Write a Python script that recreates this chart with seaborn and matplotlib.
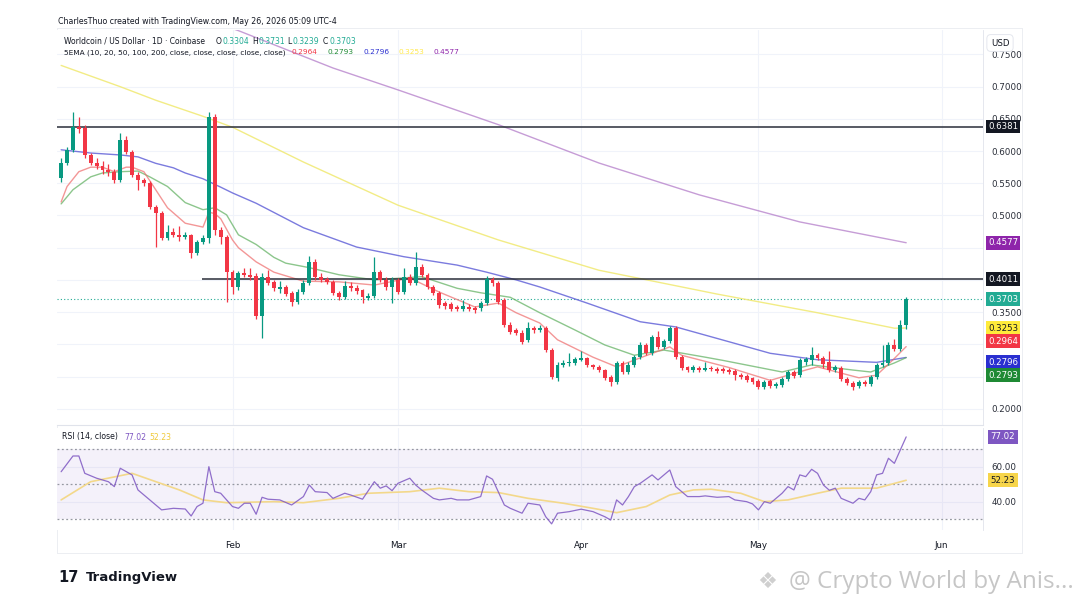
import numpy as np
import pandas as pd
import matplotlib
matplotlib.use("Agg")
import matplotlib.pyplot as plt
import matplotlib.dates as mdates
import seaborn as sns

# ---------------- data ----------------
start_date = "2026-01-03"
opens = [0.558, 0.582, 0.602, 0.637, 0.636, 0.594, 0.582, 0.577, 0.571, 0.567,
         0.555, 0.617, 0.599, 0.563, 0.555, 0.550, 0.513, 0.504, 0.465, 0.474,
         0.470, 0.467, 0.469, 0.442, 0.459, 0.465, 0.653, 0.478, 0.467, 0.412,
         0.389, 0.411, 0.408, 0.406, 0.344, 0.404, 0.396, 0.386, 0.389, 0.379,
         0.366, 0.381, 0.395, 0.428, 0.405, 0.402, 0.397, 0.380, 0.373, 0.391,
         0.388, 0.384, 0.372, 0.375, 0.412, 0.400, 0.389, 0.400, 0.381, 0.405,
         0.395, 0.420, 0.408, 0.389, 0.380, 0.364, 0.363, 0.358, 0.355, 0.358,
         0.356, 0.356, 0.364, 0.401, 0.395, 0.369, 0.330, 0.322, 0.318, 0.307,
         0.325, 0.322, 0.325, 0.291, 0.248, 0.268, 0.271, 0.271, 0.276, 0.278,
         0.268, 0.265, 0.260, 0.249, 0.241, 0.271, 0.257, 0.268, 0.280, 0.299,
         0.287, 0.311, 0.296, 0.305, 0.325, 0.280, 0.264, 0.260, 0.263, 0.260,
         0.263, 0.262, 0.261, 0.260, 0.259, 0.253, 0.251, 0.247, 0.243, 0.234,
         0.243, 0.235, 0.237, 0.246, 0.257, 0.252, 0.273, 0.275, 0.283, 0.279,
         0.272, 0.260, 0.263, 0.246, 0.240, 0.235, 0.241, 0.239, 0.249, 0.268,
         0.271, 0.299, 0.293, 0.3304]
highs = [0.590, 0.607, 0.661, 0.653, 0.640, 0.597, 0.590, 0.585, 0.580, 0.572,
         0.628, 0.624, 0.602, 0.567, 0.558, 0.553, 0.516, 0.507, 0.485, 0.480,
         0.484, 0.474, 0.472, 0.462, 0.470, 0.661, 0.658, 0.482, 0.470, 0.415,
         0.414, 0.418, 0.418, 0.410, 0.410, 0.416, 0.400, 0.398, 0.392, 0.382,
         0.386, 0.400, 0.437, 0.432, 0.410, 0.405, 0.400, 0.383, 0.398, 0.396,
         0.392, 0.386, 0.380, 0.436, 0.415, 0.404, 0.405, 0.403, 0.418, 0.409,
         0.443, 0.424, 0.410, 0.392, 0.382, 0.368, 0.366, 0.361, 0.369, 0.362,
         0.359, 0.367, 0.406, 0.404, 0.398, 0.372, 0.334, 0.326, 0.322, 0.335,
         0.329, 0.330, 0.328, 0.294, 0.272, 0.276, 0.287, 0.281, 0.290, 0.281,
         0.270, 0.268, 0.262, 0.252, 0.274, 0.274, 0.272, 0.283, 0.304, 0.302,
         0.314, 0.320, 0.309, 0.329, 0.328, 0.283, 0.267, 0.268, 0.266, 0.272,
         0.266, 0.265, 0.264, 0.263, 0.262, 0.256, 0.254, 0.250, 0.246, 0.245,
         0.246, 0.241, 0.249, 0.260, 0.260, 0.279, 0.280, 0.296, 0.287, 0.282,
         0.289, 0.268, 0.266, 0.249, 0.243, 0.244, 0.244, 0.252, 0.271, 0.299,
         0.304, 0.309, 0.337, 0.3731]
lows = [0.552, 0.578, 0.598, 0.628, 0.590, 0.578, 0.572, 0.565, 0.562, 0.551,
        0.552, 0.595, 0.560, 0.540, 0.546, 0.510, 0.451, 0.462, 0.462, 0.466,
        0.460, 0.464, 0.434, 0.439, 0.455, 0.458, 0.470, 0.455, 0.365, 0.378,
        0.384, 0.404, 0.400, 0.340, 0.310, 0.392, 0.383, 0.380, 0.375, 0.360,
        0.362, 0.378, 0.392, 0.400, 0.396, 0.393, 0.376, 0.369, 0.370, 0.383,
        0.378, 0.364, 0.369, 0.372, 0.396, 0.385, 0.364, 0.378, 0.378, 0.392,
        0.392, 0.404, 0.386, 0.376, 0.357, 0.355, 0.352, 0.351, 0.351, 0.351,
        0.349, 0.352, 0.361, 0.390, 0.362, 0.327, 0.316, 0.314, 0.300, 0.303,
        0.318, 0.319, 0.288, 0.246, 0.243, 0.264, 0.267, 0.268, 0.274, 0.265,
        0.262, 0.257, 0.245, 0.236, 0.238, 0.254, 0.254, 0.265, 0.277, 0.284,
        0.284, 0.293, 0.293, 0.302, 0.277, 0.260, 0.257, 0.257, 0.257, 0.258,
        0.259, 0.256, 0.255, 0.254, 0.244, 0.246, 0.242, 0.238, 0.231, 0.231,
        0.232, 0.232, 0.234, 0.243, 0.248, 0.249, 0.268, 0.268, 0.276, 0.263,
        0.257, 0.257, 0.243, 0.237, 0.229, 0.232, 0.235, 0.236, 0.246, 0.265,
        0.268, 0.289, 0.290, 0.3239]
closes = [0.582, 0.602, 0.637, 0.634, 0.594, 0.582, 0.577, 0.571, 0.567, 0.555,
          0.617, 0.599, 0.563, 0.555, 0.550, 0.513, 0.504, 0.465, 0.474, 0.470,
          0.467, 0.469, 0.442, 0.459, 0.465, 0.653, 0.478, 0.467, 0.412, 0.389,
          0.411, 0.408, 0.404, 0.344, 0.405, 0.395, 0.387, 0.389, 0.378, 0.366,
          0.381, 0.395, 0.428, 0.405, 0.400, 0.397, 0.380, 0.373, 0.391, 0.387,
          0.383, 0.373, 0.375, 0.412, 0.400, 0.389, 0.400, 0.381, 0.405, 0.395,
          0.420, 0.408, 0.389, 0.380, 0.361, 0.359, 0.355, 0.355, 0.359, 0.355,
          0.353, 0.364, 0.401, 0.395, 0.366, 0.330, 0.319, 0.318, 0.304, 0.325,
          0.322, 0.325, 0.291, 0.249, 0.268, 0.271, 0.272, 0.277, 0.279, 0.268,
          0.265, 0.260, 0.248, 0.241, 0.271, 0.257, 0.268, 0.280, 0.299, 0.287,
          0.311, 0.296, 0.305, 0.325, 0.280, 0.263, 0.260, 0.264, 0.260, 0.263,
          0.262, 0.259, 0.258, 0.257, 0.252, 0.249, 0.245, 0.241, 0.234, 0.241,
          0.235, 0.238, 0.246, 0.257, 0.251, 0.276, 0.277, 0.283, 0.279, 0.270,
          0.260, 0.265, 0.246, 0.240, 0.234, 0.241, 0.238, 0.249, 0.268, 0.271,
          0.299, 0.293, 0.330, 0.3703]

# EMA lines: (day index from start, value)
ema10_days = [0, 1, 3, 5, 7, 9, 11, 12, 14, 16, 18, 21, 24, 25, 26, 27, 29, 30, 33, 36, 41,
              47, 53, 59, 64, 70, 74, 77, 81, 84, 90, 94, 98, 103, 105, 113, 120, 126,
              128, 135, 138, 141, 143]
ema10_vals = [0.521, 0.545, 0.568, 0.575, 0.575, 0.568, 0.575, 0.575, 0.568, 0.540, 0.512,
              0.488, 0.482, 0.505, 0.503, 0.495, 0.462, 0.450, 0.428, 0.412, 0.398,
              0.397, 0.392, 0.403, 0.381, 0.358, 0.364, 0.349, 0.333, 0.307, 0.280,
              0.265, 0.279, 0.296, 0.283, 0.264, 0.244, 0.260, 0.265, 0.248, 0.252,
              0.278, 0.2964]
ema20_days = [0, 2, 5, 7, 10, 13, 15, 18, 21, 24, 26, 28, 30, 33, 36, 38, 42, 47, 53, 61,
              67, 71, 76, 81, 87, 92, 97, 102, 104, 109, 112, 122, 127, 134, 137, 141, 143]
ema20_vals = [0.518, 0.540, 0.560, 0.566, 0.568, 0.569, 0.560, 0.545, 0.520, 0.509,
              0.512, 0.501, 0.470, 0.455, 0.435, 0.426, 0.419, 0.408, 0.400, 0.405,
              0.387, 0.380, 0.373, 0.349, 0.322, 0.299, 0.283, 0.291, 0.288, 0.280,
              0.275, 0.257, 0.268, 0.260, 0.257, 0.271, 0.2793]
ema50_days = [0, 5, 10, 13, 16, 19, 21, 24, 27, 29, 33, 41, 50, 58, 67, 72, 77, 81, 89,
              98, 104, 113, 120, 128, 138, 143]
ema50_vals = [0.602, 0.597, 0.594, 0.591, 0.581, 0.574, 0.566, 0.557, 0.544, 0.535,
              0.519, 0.481, 0.451, 0.436, 0.423, 0.412, 0.400, 0.389, 0.364, 0.335,
              0.327, 0.304, 0.286, 0.276, 0.272, 0.2796]
ema100_days = [0, 10, 16, 24, 29, 41, 57, 74, 91, 111, 128, 141, 143]
ema100_vals = [0.733, 0.700, 0.679, 0.654, 0.637, 0.583, 0.516, 0.462, 0.415, 0.378,
               0.349, 0.325, 0.3253]
ema200_days = [22, 30, 46, 57, 74, 91, 108, 125, 143]
ema200_vals = [0.812, 0.787, 0.729, 0.695, 0.641, 0.5815, 0.532, 0.490, 0.4577]

rsi_days = [0, 2, 3, 4, 6, 8, 9, 10, 12, 13, 15, 17, 19, 21, 22, 23, 24, 25, 26, 27, 29,
            30, 31, 32, 33, 34, 35, 37, 39, 41, 42, 43, 45, 46, 48, 49, 51, 53, 54, 55,
            56, 57, 59, 60, 61, 63, 64, 66, 67, 69, 71, 72, 73, 75, 76, 78, 79, 81, 82,
            83, 84, 86, 88, 90, 92, 93, 94, 95, 96, 97, 98, 100, 101, 103, 104, 106,
            108, 109, 111, 113, 114, 116, 117, 118, 119, 120, 122, 123, 124, 125, 126,
            127, 128, 129, 130, 131, 132, 134, 135, 136, 137, 138, 139, 140, 141, 142, 143]
rsi_vals = [57.1, 66.1, 66.1, 56.2, 53.4, 51.4, 48.6, 59.1, 55.3, 46.7, 41.0, 35.3, 36.2,
            35.8, 31.8, 37.2, 39.1, 60.0, 45.7, 44.8, 37.2, 36.2, 39.1, 39.1, 32.8, 42.5,
            41.4, 41.0, 38.1, 42.9, 49.5, 45.7, 45.2, 41.9, 44.8, 43.8, 41.4, 51.4, 47.7,
            49.0, 46.3, 50.5, 53.4, 49.5, 46.7, 41.9, 41.0, 41.9, 41.0, 41.0, 42.9, 54.7,
            52.8, 38.1, 36.2, 33.4, 39.1, 38.1, 31.4, 27.3, 33.4, 34.3, 35.7, 34.3, 31.4,
            29.5, 41.0, 38.1, 42.9, 48.6, 50.5, 55.3, 52.4, 58.1, 48.6, 42.9, 42.9, 43.3,
            42.5, 42.9, 41.0, 40.0, 38.7, 35.3, 40.0, 39.1, 44.8, 48.6, 46.7, 55.3, 54.3,
            58.5, 56.2, 49.5, 46.5, 47.7, 41.9, 39.1, 41.9, 41.0, 45.7, 55.3, 56.2, 64.8,
            61.9, 69.5, 77.02]
rsi_ma_days = [0, 5, 12, 20, 24, 28, 36, 41, 47, 52, 59, 64, 69, 74, 79, 85, 90, 94, 99,
               103, 107, 110, 115, 119, 123, 128, 132, 138, 143]
rsi_ma_vals = [41.0, 51.4, 56.2, 46.7, 41.0, 39.4, 40.0, 39.4, 41.9, 44.8, 45.7, 47.7,
               45.7, 45.2, 41.9, 39.1, 36.2, 33.7, 37.2, 43.8, 46.7, 47.1, 44.8, 40.0,
               41.0, 44.8, 47.7, 47.7, 52.23]

hline_levels = [0.6381, 0.4011]
price_ticks = [0.20, 0.25, 0.30, 0.35, 0.40, 0.45, 0.50, 0.55, 0.60, 0.65, 0.70, 0.75]
# tick labels that sit fully behind a value box on the price scale are not shown
price_tick_hidden = [0.25, 0.30, 0.40, 0.45]
rsi_ticks = [40, 60]
rsi_bands = [30, 50, 70]
month_ticks = ["2026-02-01", "2026-03-01", "2026-04-01", "2026-05-01", "2026-06-01"]
month_labels = ["Feb", "Mar", "Apr", "May", "Jun"]

# ---------------- figure ----------------
sns.set_theme(style="white")
plt.rcParams["font.family"] = ["DejaVu Sans"]
W, H = 1080, 610
fig = plt.figure(figsize=(W / 100, H / 100), dpi=100)
fig.patch.set_facecolor("white")


def axes_px(l, t, r, b):
    return fig.add_axes([l / W, 1 - b / H, (r - l) / W, (b - t) / H])


def ftext(x, y, s, **kw):
    return fig.text(x / W, 1 - y / H, s, **kw)


start = pd.Timestamp(start_date)
dates = pd.date_range(start, periods=len(closes), freq="D")
df = pd.DataFrame({"date": dates, "open": opens, "high": highs, "low": lows, "close": closes})


def day_df(days, vals):
    return pd.DataFrame({"date": [start + pd.Timedelta(days=d) for d in days], "v": vals})


# outer faint frame of the chart widget
frame = fig.add_axes([57 / W, 1 - 553 / H, (1022 - 57) / W, (553 - 28) / H])
frame.set_xticks([])
frame.set_yticks([])
frame.patch.set_alpha(0)
for s in frame.spines.values():
    s.set_color("#eceef2")
    s.set_linewidth(0.7)

ax = axes_px(57, 30, 983, 425)
rx = axes_px(57, 428, 983, 530)

x0 = mdates.date2num(start - pd.Timedelta(days=0.7))
x1 = mdates.date2num(start + pd.Timedelta(days=156))

TEXT = "#131722"
GRID = "#f0f3fa"
UP, DN = "#089981", "#f23645"

# grid
mt = [pd.Timestamp(m) for m in month_ticks]
for a in (ax, rx):
    for m in mt:
        a.axvline(m, color=GRID, lw=0.8, zorder=0)
for p in price_ticks:
    ax.axhline(p, color=GRID, lw=0.8, zorder=0)
for r in [40, 60]:
    rx.axhline(r, color=GRID, lw=0.8, zorder=0)

# EMA lines
ema_specs = [
    (ema200_days, ema200_vals, "#b37cc9", 0.75),
    (ema100_days, ema100_vals, "#f1ea78", 0.9),
    (ema50_days, ema50_vals, "#5a5ad6", 0.8),
    (ema20_days, ema20_vals, "#5cae5c", 0.7),
    (ema10_days, ema10_vals, "#ee6b6b", 0.7),
]
for d_, v_, c_, a_ in ema_specs:
    sns.lineplot(data=day_df(d_, v_), x="date", y="v", ax=ax, color=c_, alpha=a_,
                 lw=1.0, zorder=2, legend=False)

# horizontal drawn levels
ax.axhline(hline_levels[0], color="#2a2e39", lw=1.1, zorder=3)
ax.hlines(hline_levels[1], start + pd.Timedelta(days=23.8), start + pd.Timedelta(days=170),
          color="#2a2e39", lw=1.1, zorder=3)
ax.axhline(closes[-1], color="#22ab94", lw=0.8, ls=(0, (1, 2)), zorder=1)

# candles
up = df["close"] >= df["open"]
cols = np.where(up, UP, DN)
ax.vlines(df["date"], df["low"], df["high"], colors=cols, lw=0.9, zorder=4)
body_lo = np.minimum(df["open"], df["close"])
body_h = np.maximum(np.abs(df["close"] - df["open"]), 0.0015)
ax.bar(df["date"], body_h, bottom=body_lo, width=0.66, color=cols, zorder=5, linewidth=0)

ax.set_xlim(x0, x1)
ax.set_ylim(0.1747, 0.788)
ax.set_xlabel("")
ax.set_ylabel("")
ax.set_xticks(mt)
ax.tick_params(axis="x", length=0, labelbottom=False)
ax.yaxis.tick_right()
ax.set_yticks(price_ticks)
ax.set_yticklabels(["" if any(abs(p - h) < 1e-9 for h in price_tick_hidden) else f"{p:.4f}"
                    for p in price_ticks])
ax.tick_params(axis="y", length=0, pad=6, labelsize=6.3, labelcolor="#2a2e39")
for s in ["top", "left"]:
    ax.spines[s].set_visible(False)
ax.spines["right"].set_color("#e0e3eb")
ax.spines["right"].set_linewidth(0.6)
ax.spines["bottom"].set_color("#e0e3eb")
ax.spines["bottom"].set_linewidth(0.8)

# RSI pane
rx.axhspan(rsi_bands[0], rsi_bands[2], color="#7e57c2", alpha=0.08, lw=0, zorder=0)
for r in rsi_bands:
    rx.axhline(r, color="#9598a1", lw=0.9, ls=(0, (1.5, 2)), zorder=1)
sns.lineplot(data=day_df(rsi_ma_days, rsi_ma_vals), x="date", y="v", ax=rx,
             color="#f3d88a", lw=1.2, zorder=2, legend=False)
sns.lineplot(data=day_df(rsi_days, rsi_vals), x="date", y="v", ax=rx,
             color="#7e57c2", lw=0.9, alpha=0.85, zorder=3, legend=False)
rx.set_xlim(x0, x1)
rx.set_ylim(23.8, 82.1)
rx.set_xlabel("")
rx.set_ylabel("")
rx.yaxis.tick_right()
rx.set_yticks(rsi_ticks)
rx.set_yticklabels([f"{r:.2f}" for r in rsi_ticks])
rx.tick_params(axis="y", length=0, pad=6, labelsize=6.3, labelcolor="#2a2e39")
rx.set_xticks(mt)
rx.set_xticklabels(month_labels)
rx.tick_params(axis="x", length=0, pad=8, labelsize=6.3, labelcolor=TEXT)
for s in ["top", "left", "bottom"]:
    rx.spines[s].set_visible(False)
rx.spines["right"].set_color("#e0e3eb")
rx.spines["right"].set_linewidth(0.6)


# right-scale value boxes
def vbox(a, val, txt, fc, tc="white", dy=0):
    a.annotate(txt, xy=(1, val), xycoords=("axes fraction", "data"),
               xytext=(14.4, dy), textcoords="offset points", ha="center", va="center",
               fontsize=6.2, color=tc, zorder=20, annotation_clip=False,
               bbox=dict(boxstyle="square,pad=0.28", fc=fc, ec="none"))


vbox(ax, hline_levels[0], "0.6381", "#131722")
vbox(ax, ema200_vals[-1], "0.4577", "#8e24aa")
vbox(ax, hline_levels[1], "0.4011", "#131722")
vbox(ax, closes[-1], "0.3703", "#22ab94")
vbox(ax, ema100_vals[-1], "0.3253", "#ffeb3b", tc=TEXT)
vbox(ax, ema10_vals[-1], "0.2964", "#f23645", dy=4)
vbox(ax, ema50_vals[-1], "0.2796", "#2a2fd0", dy=-3.5)
vbox(ax, ema20_vals[-1], "0.2793", "#1f8a34", dy=-12.8)
vbox(rx, rsi_vals[-1], "77.02", "#7e57c2")
vbox(rx, rsi_ma_vals[-1], "52.23", "#f7d54a", tc=TEXT)

ftext(1000, 43, "USD", fontsize=6.2, color=TEXT, ha="center", va="center", zorder=30,
      bbox=dict(boxstyle="round,pad=0.45", fc="white", ec="#e0e3eb", lw=0.6))

# header / legends
ftext(58, 22, "CharlesThuo created with TradingView.com, May 26, 2026 05:09 UTC-4",
      fontsize=5.65, color=TEXT, va="center")
ftext(64, 41, "Worldcoin / US Dollar · 1D · Coinbase", fontsize=5.5, color=TEXT, va="center")
ohlc = [("O", opens[-1]), ("H", highs[-1]), ("L", lows[-1]), ("C", closes[-1])]
xs = [216, 252, 287, 323]
gaps = [6.5, 6.5, 5.3, 6.3]
for (k, v), xx, g in zip(ohlc, xs, gaps):
    ftext(xx, 41, k, fontsize=5.5, color=TEXT, va="center")
    ftext(xx + g, 41, f"{v:.4f}", fontsize=5.5, color="#22ab94", va="center")
ftext(64, 52.5, "5EMA (10, 20, 50, 100, 200, close, close, close, close, close)",
      fontsize=5.3, color=TEXT, va="center")
ema_leg = [(ema10_vals[-1], "#f23645"), (ema20_vals[-1], "#1f8a34"),
           (ema50_vals[-1], "#2a2fd0"), (ema100_vals[-1], "#ffe94a"),
           (ema200_vals[-1], "#8e24aa")]
for i, (v, c) in enumerate(ema_leg):
    ftext(292 + i * 35.5, 52.5, f"{v:.4f}", fontsize=5.3, color=c, va="center")
ftext(62, 437, "RSI (14, close)", fontsize=5.6, color=TEXT, va="center")
ftext(124, 437, f"{rsi_vals[-1]:.2f}", fontsize=5.6, color="#7e57c2", va="center")
ftext(149, 437, f"{rsi_ma_vals[-1]:.2f}", fontsize=5.6, color="#f0c93a", va="center")

# footer
ftext(58, 577, "17", fontsize=10.5, fontweight="bold", color=TEXT, va="center")
ftext(86, 577, "TradingView", fontsize=9.5, fontweight="bold", color=TEXT, va="center")
ftext(757, 582, "❖", fontsize=16, color="#cfcfcf", va="center")
ftext(789, 582, "@ Crypto World by Anis...", fontsize=17.5, color="#c6c6c6", va="center",
      family=["Open Sans", "DejaVu Sans"])

fig.savefig("out.png", dpi=100, facecolor="white")
